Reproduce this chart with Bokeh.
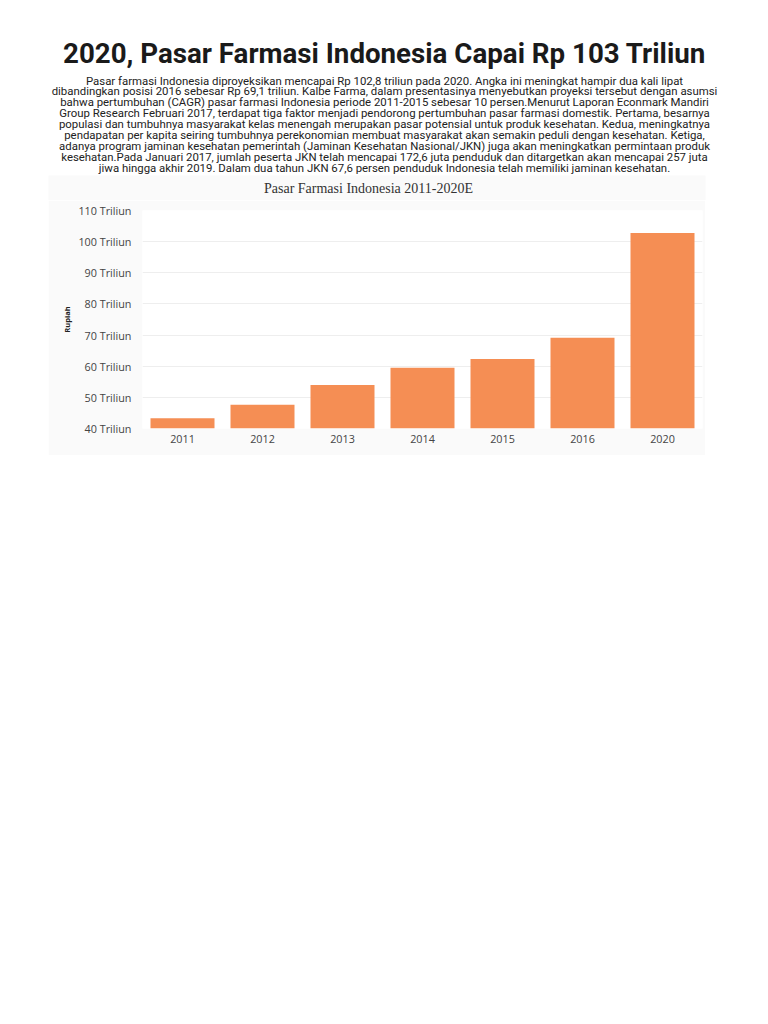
from bokeh.plotting import figure
from bokeh.models import Range1d, FixedTicker, ColumnDataSource, Spacer
from bokeh.layouts import column, row
from bokeh.core.properties import value
from bokeh.embed import file_html
from bokeh.resources import INLINE

# ---- data ----
years = ["2011", "2012", "2013", "2014", "2015", "2016", "2020"]
market = [43.3, 47.6, 54.0, 59.5, 62.3, 69.1, 102.8]
y_ticks = [40, 50, 60, 70, 80, 90, 100, 110]
y_tick_labels = ["40 Triliun", "50 Triliun", "60 Triliun", "70 Triliun",
                 "80 Triliun", "90 Triliun", "100 Triliun", "110 Triliun"]

page_title = "2020, Pasar Farmasi Indonesia Capai Rp 103 Triliun"
chart_title = "Pasar Farmasi Indonesia 2011-2020E"
y_label = "Rupiah"
paragraph = [
    "Pasar farmasi Indonesia diproyeksikan mencapai Rp 102,8 triliun pada 2020. Angka ini meningkat hampir dua kali lipat",
    "dibandingkan posisi 2016 sebesar Rp 69,1 triliun. Kalbe Farma, dalam presentasinya menyebutkan proyeksi tersebut dengan asumsi",
    "bahwa pertumbuhan (CAGR) pasar farmasi Indonesia periode 2011-2015 sebesar 10 persen.Menurut Laporan Econmark Mandiri",
    "Group Research Februari 2017, terdapat tiga faktor menjadi pendorong pertumbuhan pasar farmasi domestik. Pertama, besarnya",
    "populasi dan tumbuhnya masyarakat kelas menengah merupakan pasar potensial untuk produk kesehatan. Kedua, meningkatnya",
    "pendapatan per kapita seiring tumbuhnya perekonomian membuat masyarakat akan semakin peduli dengan kesehatan. Ketiga,",
    "adanya program jaminan kesehatan pemerintah (Jaminan Kesehatan Nasional/JKN) juga akan meningkatkan permintaan produk",
    "kesehatan.Pada Januari 2017, jumlah peserta JKN telah mencapai 172,6 juta penduduk dan ditargetkan akan mencapai 257 juta",
    "jiwa hingga akhir 2019. Dalam dua tahun JKN 67,6 persen penduduk Indonesia telah memiliki jaminan kesehatan.",
]

# ---- top text figure (pixel coordinates, y downward) ----
W = 752
H1 = 192
top = figure(width=W, height=H1, x_range=Range1d(0, W), y_range=Range1d(H1, 0),
             output_backend="svg", toolbar_location=None,
             x_axis_location=None, y_axis_location=None, min_border=0)
top.grid.visible = False
top.outline_line_color = None
top.background_fill_color = "white"
top.border_fill_color = "white"

# light background of the embedded chart image (upper part)
top.quad(left=[40], right=[697], top=[167], bottom=[H1], fill_color="#fafafa", line_color=None)

top.text(x=[376], y=[45], text=[page_title], text_align="center", text_baseline="middle",
         text_font=value("Roboto"), text_font_size="27.7px", text_font_style="bold",
         text_color="#1a1a1a")

top.text(x=[376] * len(paragraph), y=[72 + i * 10.9 for i in range(len(paragraph))],
         text=paragraph, text_align="center", text_baseline="middle",
         text_font=value("Roboto"), text_font_size="11.4px", text_color="#222222")

top.text(x=[360], y=[180], text=[chart_title], text_align="center", text_baseline="middle",
         text_font=value("Liberation Serif"), text_font_size="14px", text_color="#333333")

# ---- chart figure ----
src = ColumnDataSource(dict(years=years, market=market))
p = figure(width=657, height=255, x_range=years, y_range=Range1d(40, 110),
           output_backend="svg", toolbar_location=None,
           min_border_left=94, min_border_right=3, min_border_top=10, min_border_bottom=27)
p.background_fill_color = "#ffffff"
p.border_fill_color = "#fafafa"
p.outline_line_color = None

p.vbar(x="years", top="market", bottom=40, width=0.8, source=src,
       fill_color="#f58e54", line_color=None)

p.xgrid.visible = False
p.ygrid.grid_line_color = "#eeeeee"
p.ygrid.grid_line_width = 1

p.yaxis.ticker = FixedTicker(ticks=y_ticks)
p.yaxis.major_label_overrides = {t: l for t, l in zip(y_ticks, y_tick_labels)}
for ax in (p.xaxis[0], p.yaxis[0]):
    ax.axis_line_color = None
    ax.major_tick_line_color = None
    ax.minor_tick_line_color = None
    ax.major_tick_out = 0
    ax.major_tick_in = 0
    ax.minor_tick_out = 0
    ax.minor_tick_in = 0
    ax.major_label_text_font = "Open Sans"
    ax.major_label_text_font_size = "10.8px"
    ax.major_label_text_color = "#444444"
p.yaxis.major_label_standoff = 11
p.xaxis.major_label_standoff = 6
p.yaxis.axis_label = y_label
p.yaxis.axis_label_text_font = "Open Sans"
p.yaxis.axis_label_text_font_size = "7.5px"
p.yaxis.axis_label_text_font_style = "bold"
p.yaxis.axis_label_text_color = "#222222"
p.yaxis.axis_label_standoff = 3

layout = column(Spacer(width=8, height=8),
                row(Spacer(width=8, height=H1), top),
                row(Spacer(width=48, height=255), p))
open("out.html", "w").write(file_html(layout, INLINE))
